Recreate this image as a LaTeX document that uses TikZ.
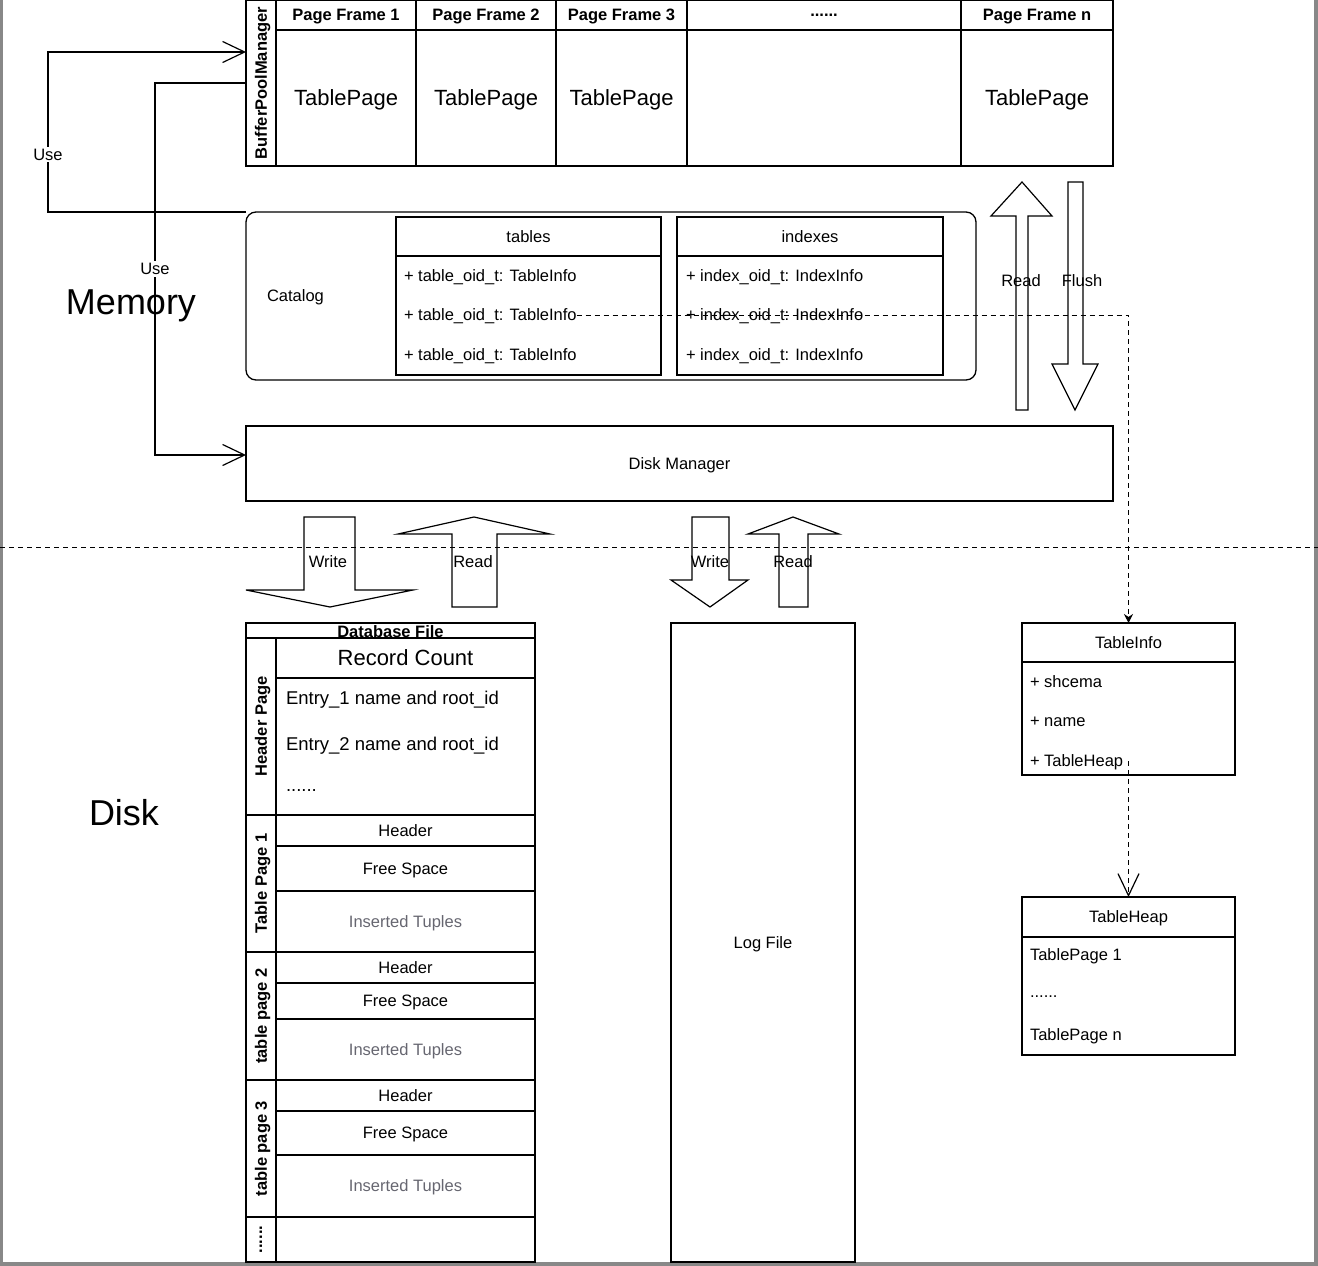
\documentclass[tikz,border=0pt]{standalone}
\usepackage{fontspec}
\setmainfont{Liberation Sans}
\usetikzlibrary{positioning, calc, arrows.meta}

\newcommand{\pxfont}[1]{\fontsize{#1}{#1}\selectfont}
\definecolor{framegray}{HTML}{888888}
\definecolor{tuplegray}{HTML}{666670}

\begin{document}
\begin{tikzpicture}[x=1pt, y=-1pt, line width=1.3pt, inner sep=0pt, outer sep=0pt, text depth=0pt]
            % Define block styles
            \tikzstyle{cell} = [rectangle, draw, anchor=north west, align=center, font=\pxfont{16.5}]
            \tikzstyle{smalltext} = [font=\pxfont{16.5}]
            \tikzstyle{boldtext} = [font=\bfseries\pxfont{16.5}]
            \tikzstyle{midtext} = [font=\pxfont{18.5}]
            \tikzstyle{bigtext} = [font=\pxfont{22}]
            \tikzstyle{hugetext} = [font=\pxfont{36}]
            \tikzstyle{rowtext} = [anchor=west, font=\pxfont{16.5}]
            \tikzstyle{blockarrow} = [draw, line width=1.2pt, line join=miter]
            \tikzstyle{usearrow} = [line width=1.2pt, -{Straight Barb[length=22pt, width=21pt, line width=1.2pt]}]
            \tikzstyle{dashline} = [line width=1pt, dash pattern=on 5pt off 4pt]

            \useasboundingbox (0,0) rectangle (1318,1266);

            % Page border
            \fill[framegray] (0,0) rectangle (2.5,1266);
            \fill[framegray] (1314,0) rectangle (1318,1266);
            \fill[framegray] (0,1262) rectangle (1318,1266);

            % Memory / Disk split
            \draw[dashline] (0,547) -- (1318,547);
            \node[hugetext] (memory) at (131,302) {Memory};
            \node[hugetext] (disk) at (124,812) {Disk};

            % Buffer pool
            \node[cell, minimum width=30, minimum height=166] (bpm) at (246,0) {};
            \node[boldtext, rotate=90] at (bpm.center) {BufferPoolManager};
            \node[cell, boldtext, minimum width=140, minimum height=30] (pf1) at (bpm.north east) {Page Frame 1};
            \node[cell, boldtext, minimum width=140, minimum height=30] (pf2) at (pf1.north east) {Page Frame 2};
            \node[cell, boldtext, minimum width=131, minimum height=30] (pf3) at (pf2.north east) {Page Frame 3};
            \node[cell, boldtext, minimum width=274, minimum height=30] (pf4) at (pf3.north east) {......};
            \node[cell, boldtext, minimum width=152, minimum height=30] (pf5) at (pf4.north east) {Page Frame n};
            \node[cell, bigtext, minimum width=140, minimum height=136] (tp1) at (pf1.south west) {TablePage};
            \node[cell, bigtext, minimum width=140, minimum height=136] (tp2) at (pf2.south west) {TablePage};
            \node[cell, bigtext, minimum width=131, minimum height=136] (tp3) at (pf3.south west) {TablePage};
            \node[cell, bigtext, minimum width=274, minimum height=136] (tp4) at (pf4.south west) {};
            \node[cell, bigtext, minimum width=152, minimum height=136] (tp5) at (pf5.south west) {TablePage};

            % Catalog
            \node[draw, rounded corners=10pt, minimum width=730, minimum height=168, anchor=north west] (catalog) at (246,212) {};
            \node[smalltext, anchor=west] (catlabel) at ($(catalog.west)+(21,0)$) {Catalog};
            \node[cell, minimum width=265, minimum height=39] (tables) at (396,217) {tables};
            \node[cell, minimum width=265, minimum height=119] (tbody) at (tables.south west) {};
            \node[rowtext] (trow1) at ($(tbody.north west)+(8,20)$) {+ table\_oid\_t: TableInfo};
            \node[rowtext] (trow2) at ($(tbody.north west)+(8,59)$) {+ table\_oid\_t: TableInfo};
            \node[rowtext] (trow3) at ($(tbody.north west)+(8,99)$) {+ table\_oid\_t: TableInfo};
            \node[cell, minimum width=266, minimum height=39] (indexes) at (677,217) {indexes};
            \node[cell, minimum width=266, minimum height=119] (ibody) at (indexes.south west) {};
            \node[rowtext] (irow1) at ($(ibody.north west)+(9,20)$) {+ index\_oid\_t: IndexInfo};
            \node[rowtext] (irow2) at ($(ibody.north west)+(9,59)$) {+ index\_oid\_t: IndexInfo};
            \node[rowtext] (irow3) at ($(ibody.north west)+(9,99)$) {+ index\_oid\_t: IndexInfo};

            % Disk manager
            \node[cell, minimum width=867, minimum height=75] (dm) at (246,426) {Disk Manager};

            % Use connections
            \draw[usearrow] (catalog.north west) -- ++(-198,0) -- node[smalltext, pos=0.36, fill=white, inner sep=2pt] {Use} ++(0,-160) -- ($(bpm.north west)+(0,52)$);
            \draw[usearrow] ($(bpm.north west)+(0,83)$) -- ++(-91,0) -- node[smalltext, fill=white, inner sep=2pt] {Use} ++(0,372) -- ($(dm.north west)+(0,29)$);

            % Read / Flush between buffer pool and disk manager
            \draw[blockarrow] (1016,410) -- (1016,216) -- (991,216) -- (1022,182) -- (1052,216) -- (1028,216) -- (1028,410) -- cycle;
            \draw[blockarrow] (1068,182) -- (1068,364) -- (1052,364) -- (1075,410) -- (1098,364) -- (1083,364) -- (1083,182) -- cycle;
            \node[smalltext] at (1021,281) {Read};
            \node[smalltext] at (1082,281) {Flush};

            % Write / Read to files
            \draw[blockarrow] (304,517) -- (304,590) -- (246,590) -- (330,607) -- (413,590) -- (355,590) -- (355,517) -- cycle;
            \draw[blockarrow] (452,607) -- (452,534) -- (398,534) -- (474,517) -- (550,534) -- (497,534) -- (497,607) -- cycle;
            \draw[blockarrow] (692,517) -- (692,580) -- (671,580) -- (710,607) -- (748,580) -- (729,580) -- (729,517) -- cycle;
            \draw[blockarrow] (779,607) -- (779,534) -- (748,534) -- (793,517) -- (839,534) -- (808,534) -- (808,607) -- cycle;
            \node[smalltext] at (328,562) {Write};
            \node[smalltext] at (473,562) {Read};
            \node[smalltext] at (710,562) {Write};
            \node[smalltext] at (793,562) {Read};

            % Database file
            \node[cell, minimum width=289, minimum height=15] (dbfile) at (246,623) {};
            \node[boldtext] at ($(dbfile.center)+(0,1)$) {Database File};
            \node[cell, minimum width=30, minimum height=177] (hplab) at (dbfile.south west) {};
            \node[cell, minimum width=30, minimum height=137] (tp1lab) at (hplab.south west) {};
            \node[cell, minimum width=30, minimum height=128] (tp2lab) at (tp1lab.south west) {};
            \node[cell, minimum width=30, minimum height=137] (tp3lab) at (tp2lab.south west) {};
            \node[cell, minimum width=30, minimum height=45] (morelab) at (tp3lab.south west) {};
            \node[boldtext, rotate=90] at (hplab.center) {Header Page};
            \node[boldtext, rotate=90] at (tp1lab.center) {Table Page 1};
            \node[boldtext, rotate=90] at (tp2lab.center) {table page 2};
            \node[boldtext, rotate=90] at (tp3lab.center) {table page 3};
            \node[boldtext, rotate=90] at (morelab.center) {......};

            \node[cell, bigtext, minimum width=259, minimum height=40] (reccount) at (hplab.north east) {Record Count};
            \node[cell, minimum width=259, minimum height=137] (entries) at (reccount.south west) {};
            \node[midtext, anchor=west] (entry1) at ($(entries.north west)+(10,20)$) {Entry\_1 name and root\_id};
            \node[midtext, anchor=west] (entry2) at ($(entries.north west)+(10,66)$) {Entry\_2 name and root\_id};
            \node[midtext, anchor=west] (entry3) at ($(entries.north west)+(10,113)$) {......};

            \node[cell, minimum width=259, minimum height=31] (hdr1) at (tp1lab.north east) {Header};
            \node[cell, minimum width=259, minimum height=45] (free1) at (hdr1.south west) {Free Space};
            \node[cell, minimum width=259, minimum height=61, text=tuplegray] (tup1) at (free1.south west) {Inserted Tuples};
            \node[cell, minimum width=259, minimum height=31] (hdr2) at (tp2lab.north east) {Header};
            \node[cell, minimum width=259, minimum height=36] (free2) at (hdr2.south west) {Free Space};
            \node[cell, minimum width=259, minimum height=61, text=tuplegray] (tup2) at (free2.south west) {Inserted Tuples};
            \node[cell, minimum width=259, minimum height=31] (hdr3) at (tp3lab.north east) {Header};
            \node[cell, minimum width=259, minimum height=44] (free3) at (hdr3.south west) {Free Space};
            \node[cell, minimum width=259, minimum height=62, text=tuplegray] (tup3) at (free3.south west) {Inserted Tuples};
            \node[cell, minimum width=259, minimum height=45] (more) at (morelab.north east) {};

            % Log file
            \node[cell, minimum width=184, minimum height=639] (log) at (671,623) {Log File};

            % TableInfo and TableHeap
            \node[cell, minimum width=213, minimum height=39] (tinfo) at (1022,623) {TableInfo};
            \node[cell, minimum width=213, minimum height=113] (tinfobody) at (tinfo.south west) {};
            \node[rowtext] (frow1) at ($(tinfobody.north west)+(8,20)$) {+ shcema};
            \node[rowtext] (frow2) at ($(tinfobody.north west)+(8,60)$) {+ name};
            \node[rowtext] (frow3) at ($(tinfobody.north west)+(8,99)$) {+ TableHeap};
            \node[cell, minimum width=213, minimum height=40] (theap) at (1022,897) {TableHeap};
            \node[cell, minimum width=213, minimum height=118] (theapbody) at (theap.south west) {};
            \node[rowtext] (hrow1) at ($(theapbody.north west)+(8,18)$) {TablePage 1};
            \node[rowtext] (hrow2) at ($(theapbody.north west)+(8,60)$) {......};
            \node[rowtext] (hrow3) at ($(theapbody.north west)+(8,98)$) {TablePage n};

            % Dashed references
            \draw[dashline, -{Stealth[length=9pt, width=9pt]}] (trow2.east) -| (tinfo.north);
            \draw[dashline, usearrow] (theap.north |- frow3.east) -- (theap.north);

        \end{tikzpicture}
\end{document}
